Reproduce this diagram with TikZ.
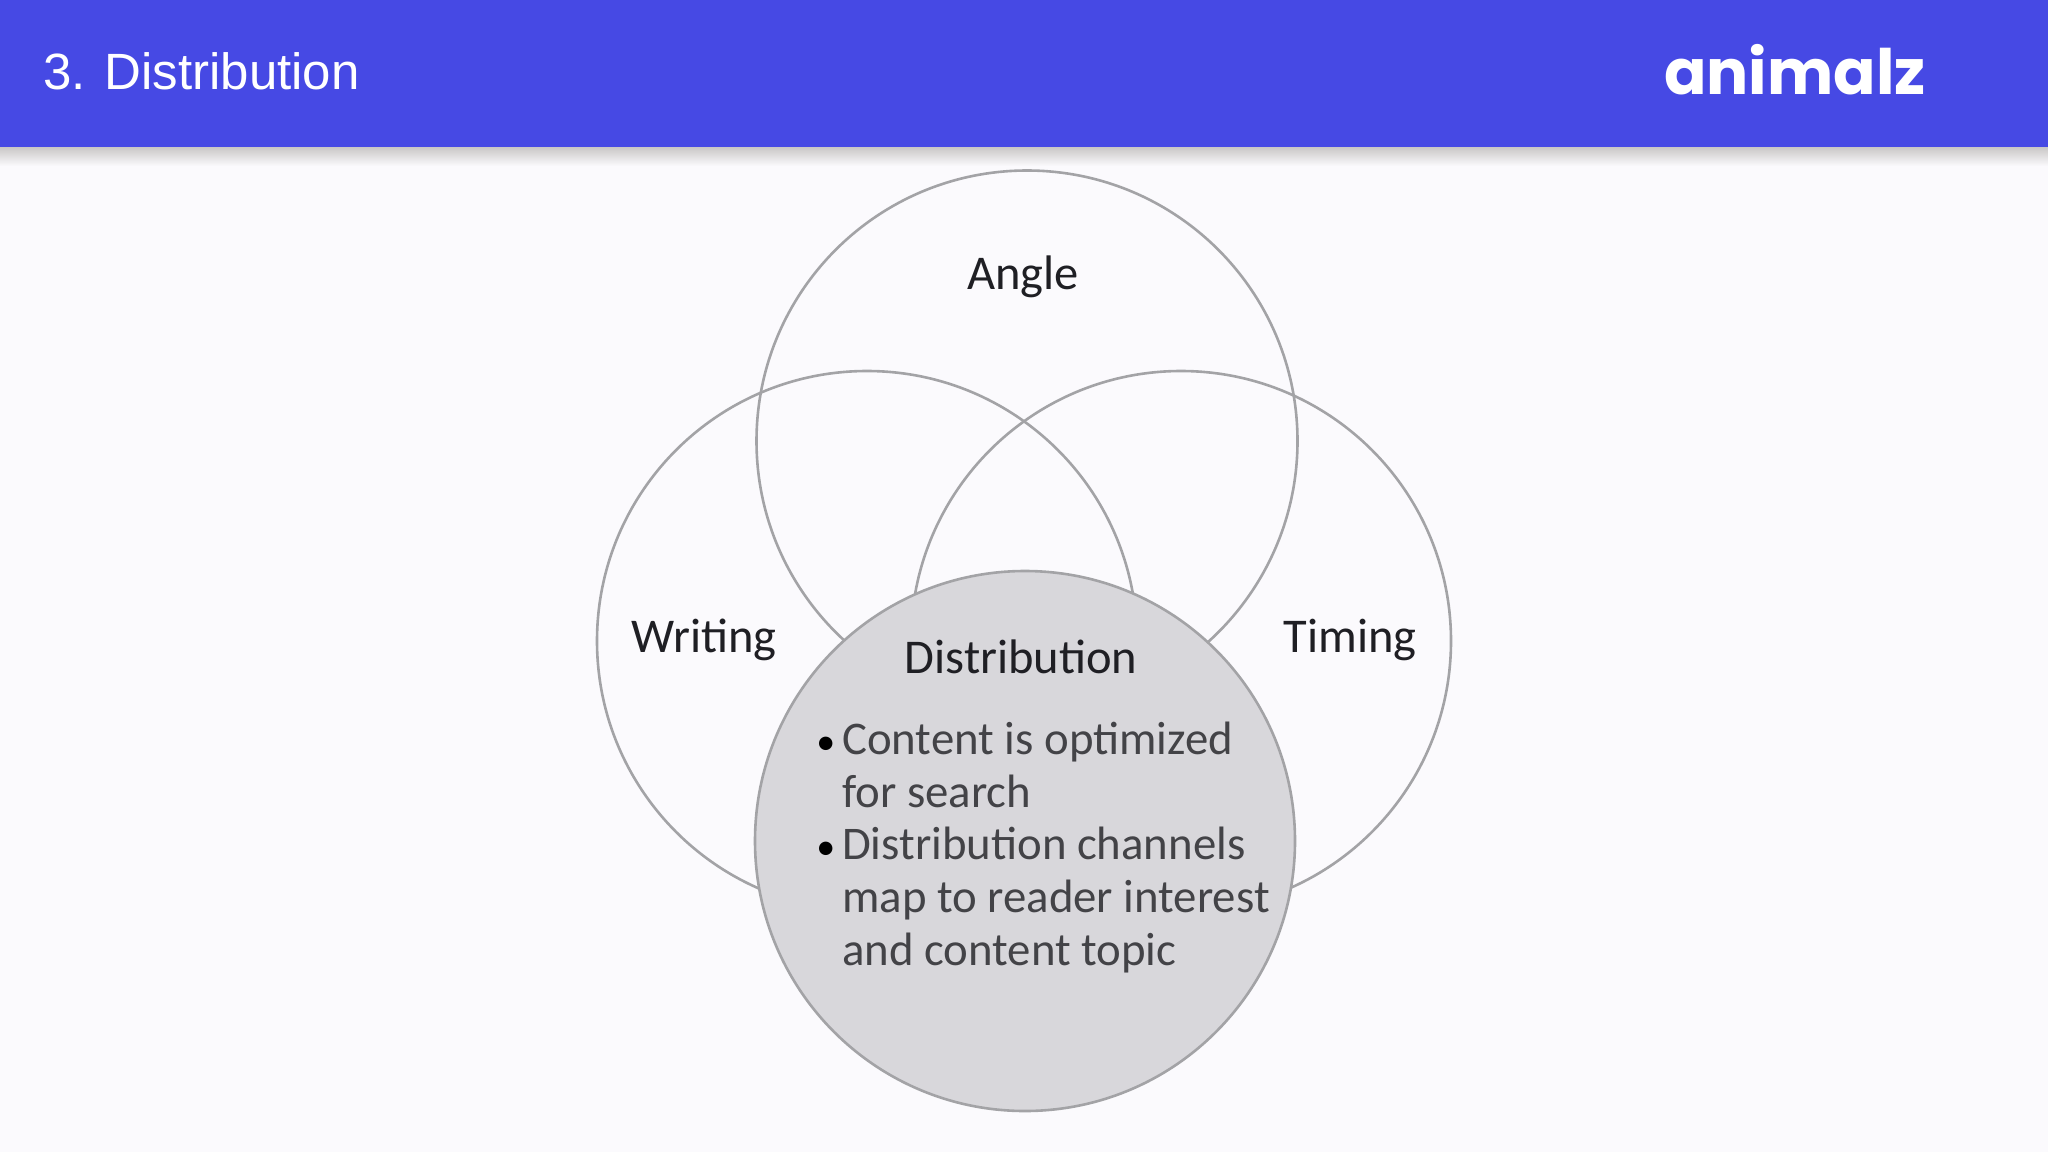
\documentclass[tikz,border=0pt]{standalone}
\usepackage{fontspec}
\setmainfont{Carlito}
\newfontfamily\titlefont{Liberation Sans}
\newfontfamily\logofont{Poppins}
\definecolor{pagebg}{HTML}{FBFAFD}
\definecolor{headblue}{HTML}{4649E4}
\definecolor{ringgray}{HTML}{A3A3A6}
\definecolor{discgray}{HTML}{D8D7DB}
\definecolor{headtext}{HTML}{1F1F24}
\definecolor{bodytext}{HTML}{434347}
\definecolor{shadowgray}{HTML}{C9C7C6}
\tikzset{
  ring/.style={circle,draw=ringgray,line width=2.6pt,inner sep=0pt},
  lab/.style={inner sep=0pt,text=headtext,font=\fontsize{48.5}{52}\selectfont},
}
\newcommand{\bulletmark}{\llap{\textcolor{black}{\fontsize{38}{38}\selectfont •}\hspace{7pt}}}
\begin{document}
\begin{tikzpicture}[x=1pt,y=-1pt]
\useasboundingbox (0,0) rectangle (2048,1152);
\fill[pagebg] (0,0) rectangle (2048,1152);
\shade[top color=shadowgray,bottom color=pagebg] (0,147) rectangle (2048,166);
\fill[headblue] (0,0) rectangle (2048,147);
\node[anchor=base west,inner sep=0pt,text=white,font=\titlefont\fontsize{51}{56}\selectfont] (title) at (43,89) {3. Distribution};
\node[anchor=base west,inner sep=0pt,text=white,font=\logofont\bfseries\fontsize{62.6}{68}\selectfont] (logo) at (1664,94) {animalz};
\node[ring,minimum size=541pt] (angle) at (1027,441) {};
\node[ring,minimum size=540pt] (writing) at (867,641) {};
\node[ring,minimum size=540pt] (timing) at (1181,641) {};
\node[ring,fill=discgray,minimum size=540pt] (dist) at (1025,841) {};
\node[lab] (anglelab) at (1023,277) {Angle};
\node[lab] (writinglab) at (704,640) {Writing};
\node[lab] (timinglab) at (1350,640) {Timing};
\node[lab] (disthead) at (1021,657) {Distribution};
\node[anchor=north west,inner sep=0pt,align=left,text=bodytext,font=\fontsize{46.8}{52.6}\selectfont] (body) at (842,722) {%
\bulletmark Content is optimized\\
for search\\
\bulletmark Distribution channels\\
map to reader interest\\
and content topic};
\end{tikzpicture}
\end{document}
